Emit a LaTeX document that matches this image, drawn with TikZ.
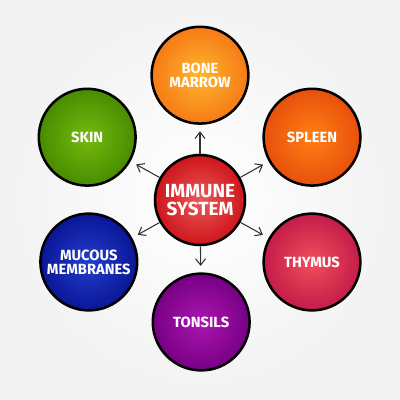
\documentclass[tikz,border=0pt]{standalone}
\usepackage{fontspec}
\setsansfont{Fira Sans}
\usepackage{xcolor}
\usepackage{tikz}
\usetikzlibrary{arrows.meta}
\definecolor{hubin}{RGB}{236, 88, 88}
\definecolor{hubout}{RGB}{206, 22, 28}
\definecolor{bonein}{RGB}{255, 182, 45}
\definecolor{boneout}{RGB}{246, 122, 22}
\definecolor{spleenin}{RGB}{255, 128, 20}
\definecolor{spleenout}{RGB}{232, 80, 12}
\definecolor{thymusin}{RGB}{242, 78, 92}
\definecolor{thymusout}{RGB}{196, 28, 72}
\definecolor{tonsilsin}{RGB}{172, 22, 176}
\definecolor{tonsilsout}{RGB}{118, 0, 132}
\definecolor{mucousin}{RGB}{34, 62, 206}
\definecolor{mucousout}{RGB}{10, 22, 150}
\definecolor{skinin}{RGB}{118, 186, 14}
\definecolor{skinout}{RGB}{72, 140, 0}
\definecolor{arrowgray}{RGB}{50, 50, 50}

\tikzset{
  organ/.style={circle, draw=black, line width=1.8pt, minimum size=2.42cm,
    inner sep=0pt, text=white, align=center,
    font=\sffamily\bfseries\fontsize{10.5}{10}\selectfont},
  hub/.style={organ, minimum size=2.25cm, inner color=hubin, outer color=hubout,
    font=\sffamily\bfseries\fontsize{13.5}{12.5}\selectfont},
  arr/.style={-{Straight Barb[length=4.5pt,width=7pt]}, draw=arrowgray,
    line width=0.75pt, shorten >=0.16cm}
}

\begin{document}
\begin{tikzpicture}
  % background
  \shade[inner color=white, outer color=black!5] (-5,-5) rectangle (5,5);
  \useasboundingbox (-5,-5) rectangle (5,5);
  % centre circle
  \node[hub] (immune) at (0,0) {IMMUNE\\SYSTEM};
  % outer circles
  \foreach \name/\x/\y/\txt in {
      bone/0/3.12/{BONE\\MARROW},
      spleen/2.8/1.57/{SPLEEN},
      thymus/2.8/-1.55/{THYMUS},
      tonsils/0.03/-3.05/{TONSILS},
      mucous/-2.78/-1.55/{MUCOUS\\MEMBRANES},
      skin/-2.82/1.57/{SKIN}} {
    \node[organ, inner color=\name in, outer color=\name out] (\name) at (\x,\y) {\txt};
  }
  % arrows from the centre
  \foreach \name in {bone, spleen, thymus, tonsils, mucous, skin} {
    \draw[arr] (immune) -- (\name);
  }
\end{tikzpicture}
\end{document}
